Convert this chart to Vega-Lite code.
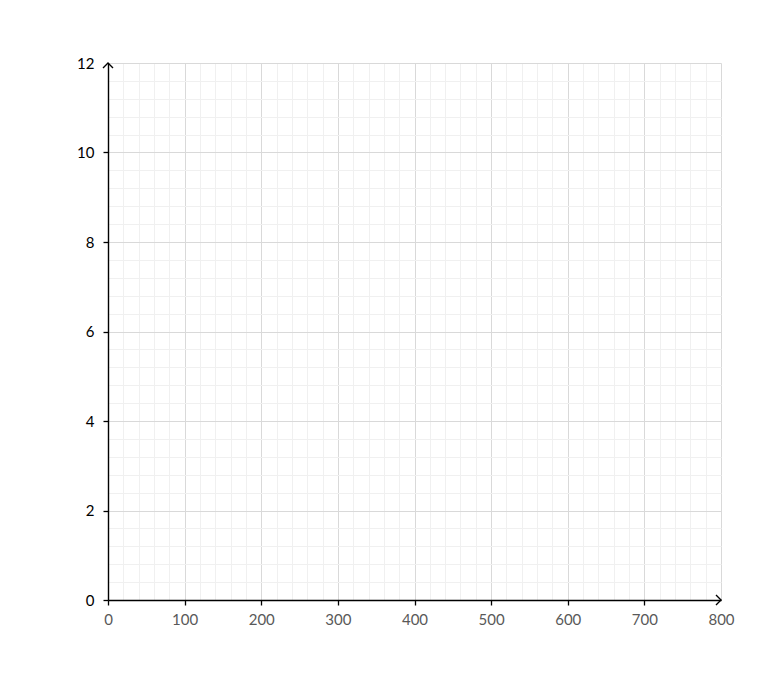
{
  "$schema": "https://vega.github.io/schema/vega-lite/v6.json",
  "description": "Empty Excel-style grid with arrowed axes",
  "autosize": {"type": "none"},
  "width": 613,
  "height": 537,
  "padding": {"left": 108, "top": 63, "right": 47, "bottom": 94},
  "background": "#ffffff",
  "data": {
    "values": [
      {"x": 0, "y": 12, "dir": "up"},
      {"x": 800, "y": 0, "dir": "right"}
    ]
  },
  "mark": {"type": "point", "filled": false, "strokeWidth": 1.4, "opacity": 1, "size": 100},
  "encoding": {
    "x": {
      "field": "x",
      "type": "quantitative",
      "scale": {"domain": [0, 800], "nice": false, "zero": false},
      "title": null,
      "axis": {
        "values": [0, 20, 40, 60, 80, 100, 120, 140, 160, 180, 200, 220, 240, 260, 280, 300, 320, 340, 360, 380, 400, 420, 440, 460, 480, 500, 520, 540, 560, 580, 600, 620, 640, 660, 680, 700, 720, 740, 760, 780, 800],
        "labelExpr": "datum.value % 100 === 0 ? format(datum.value, 'd') : ''",
        "labelColor": "#595959",
        "labelFont": "Lato",
        "labelFontSize": 15,
        "labelPadding": 7,
        "labelOverlap": false,
        "labelFlush": false,
        "labelBound": false,
        "domainColor": "#000000",
        "domainWidth": 1.4,
        "tickSize": 5,
        "tickWidth": 1.3,
        "tickColor": {"condition": {"test": "datum.value % 100 === 0 && datum.value < 800", "value": "#000000"}, "value": "transparent"},
        "grid": true,
        "gridColor": {"condition": {"test": "datum.value % 100 === 0", "value": "#d9d9d9"}, "value": "#f0f0f0"},
        "gridWidth": 1
      }
    },
    "y": {
      "field": "y",
      "type": "quantitative",
      "scale": {"domain": [0, 12], "nice": false, "zero": false},
      "title": null,
      "axis": {
        "values": [0, 0.4, 0.8, 1.2, 1.6, 2, 2.4, 2.8, 3.2, 3.6, 4, 4.4, 4.8, 5.2, 5.6, 6, 6.4, 6.8, 7.2, 7.6, 8, 8.4, 8.8, 9.2, 9.6, 10, 10.4, 10.8, 11.2, 11.6, 12],
        "labelExpr": "datum.value % 2 === 0 ? format(datum.value, 'd') : ''",
        "labelColor": "#000000",
        "labelFont": "Lato",
        "labelFontSize": 15,
        "labelPadding": 9,
        "labelOverlap": false,
        "labelFlush": false,
        "labelBound": false,
        "domainColor": "#000000",
        "domainWidth": 1.4,
        "tickSize": 5,
        "tickWidth": 1.3,
        "tickColor": {"condition": {"test": "datum.value % 2 === 0 && datum.value < 12", "value": "#000000"}, "value": "transparent"},
        "grid": true,
        "gridColor": {"condition": {"test": "datum.value % 2 === 0", "value": "#d9d9d9"}, "value": "#f0f0f0"},
        "gridWidth": 1
      }
    },
    "shape": {
      "field": "dir",
      "type": "nominal",
      "scale": {"domain": ["up", "right"], "range": ["M-1,1L0,0L1,1", "M-1,-1L0,0L-1,1"]},
      "legend": null
    },
    "color": {"value": "#000000"}
  },
  "config": {
    "view": {"stroke": null}
  }
}
